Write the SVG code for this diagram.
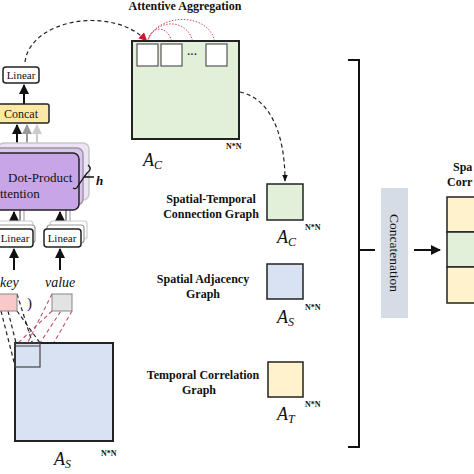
<svg xmlns="http://www.w3.org/2000/svg" width="474" height="474" viewBox="0 0 474 474">
<style>
.t{font-family:"Liberation Serif","Times New Roman",serif;fill:#111}
.b{font-weight:bold}
.lab{font-family:"Liberation Serif","Times New Roman",serif;font-weight:bold;font-size:12px;fill:#111;text-anchor:middle}
.nn{font-family:"Liberation Serif","Times New Roman",serif;font-weight:bold;font-size:8px;fill:#111}
.mat{font-family:"Liberation Serif","Times New Roman",serif;font-style:italic;font-size:18px;fill:#111}
.sub{font-size:12px}
.box{stroke:#222;stroke-width:2}
.cell{fill:#fff;stroke:#555;stroke-width:1.2}
.dk{stroke:#222;stroke-width:1.2;stroke-dasharray:4 3;fill:none}
.dr{stroke:#c0506a;stroke-width:1.1;stroke-dasharray:4 3;fill:none}
.arr{stroke:#111;stroke-width:2;fill:none}
</style>
<defs>
<marker id="ah" viewBox="0 0 10 10" refX="9" refY="5" markerWidth="5" markerHeight="5" orient="auto"><path d="M0,0 L10,5 L0,10 z" fill="#111"/></marker>
<marker id="ahs" viewBox="0 0 10 10" refX="9" refY="5" markerWidth="6" markerHeight="6" orient="auto"><path d="M0,1 L10,5 L0,9 z" fill="#111"/></marker>
<marker id="ahg" viewBox="0 0 10 10" refX="9" refY="5" markerWidth="5" markerHeight="5" orient="auto"><path d="M0,0 L10,5 L0,10 z" fill="#999"/></marker>
<marker id="ahl" viewBox="0 0 10 10" refX="9" refY="5" markerWidth="5" markerHeight="5" orient="auto"><path d="M0,0 L10,5 L0,10 z" fill="#ccc"/></marker>
<marker id="ahr" viewBox="0 0 10 10" refX="8" refY="5" markerWidth="7" markerHeight="7" orient="auto"><path d="M0,0 L10,5 L0,10 z" fill="#d0162a"/></marker>
</defs>

<g id="connectors">
  <path class="dk" d="M25,62 C30,20 110,5 146,40" stroke-width="1.5" marker-end="url(#ahr)"/>
  <path d="M172,44 C170,26 152,24 148,40" stroke="#d05060" stroke-width="1" stroke-dasharray="1.5 1.5" fill="none"/>
  <path d="M193,44 C190,18 156,18 148,40" stroke="#d05060" stroke-width="1" stroke-dasharray="1.5 1.5" fill="none"/>
  <path d="M215,44 C212,12 158,12 148,40" stroke="#d05060" stroke-width="1" stroke-dasharray="1.5 1.5" fill="none"/>
  <path class="dk" d="M240,92 C268,98 285,130 285,181" stroke-width="1.4" marker-end="url(#ahs)"/>
  <line class="arr" x1="24" y1="104" x2="24" y2="85" marker-end="url(#ah)"/>
  <line x1="37" y1="145" x2="37" y2="125" stroke="#ccc" stroke-width="2" marker-end="url(#ahl)"/>
  <line x1="27" y1="149" x2="27" y2="125" stroke="#999" stroke-width="2" marker-end="url(#ahg)"/>
  <line class="arr" x1="17" y1="153" x2="17" y2="125" marker-end="url(#ah)"/>
  <line x1="24" y1="225" x2="24" y2="206" stroke="#ccc" stroke-width="2"/>
  <line x1="20" y1="227" x2="20" y2="208" stroke="#999" stroke-width="2"/>
  <line class="arr" x1="14" y1="229" x2="14" y2="212" marker-end="url(#ah)"/>
  <line x1="70" y1="225" x2="70" y2="206" stroke="#ccc" stroke-width="2"/>
  <line x1="66" y1="227" x2="66" y2="208" stroke="#999" stroke-width="2"/>
  <line class="arr" x1="60" y1="229" x2="60" y2="212" marker-end="url(#ah)"/>
  <line class="arr" x1="14" y1="270" x2="14" y2="249" marker-end="url(#ah)"/>
  <line class="arr" x1="60" y1="270" x2="60" y2="249" marker-end="url(#ah)"/>
  <line class="dk" x1="1" y1="311" x2="15" y2="366"/>
  <line class="dk" x1="8" y1="311" x2="16" y2="343"/>
  <line class="dk" x1="17" y1="294" x2="40" y2="367"/>
  <line class="dk" x1="17" y1="311" x2="40" y2="343"/>
  <line class="dr" x1="52" y1="294" x2="16" y2="366"/>
  <line class="dr" x1="72" y1="294" x2="40" y2="343"/>
  <line class="dr" x1="52" y1="311" x2="18" y2="343"/>
  <line class="dr" x1="72" y1="311" x2="40" y2="367"/>
  <line class="arr" x1="414" y1="250" x2="440" y2="250" marker-end="url(#ah)"/>
</g>

<g id="linear-top">
  <rect x="3" y="67" width="36" height="16" rx="3" fill="#fff" stroke="#222" stroke-width="1.5"/>
  <text class="t" x="21" y="79" font-size="11" text-anchor="middle">Linear</text>
</g>

<g id="concat">
  <rect x="-6" y="104" width="55" height="19" rx="2" fill="#fde9a6" stroke="#222" stroke-width="1.5"/>
  <text class="t" x="21" y="118" font-size="12" text-anchor="middle">Concat</text>
</g>

<g id="attention">
  <rect x="-2" y="143" width="91" height="57" rx="6" fill="#ede2f6" stroke="#c8c8c8" stroke-width="1.5"/>
  <rect x="-6" y="148" width="89" height="57" rx="6" fill="#dbc5ef" stroke="#999" stroke-width="1.5"/>
  <rect x="-10" y="153" width="89" height="57" rx="6" fill="#c8a5e6" stroke="#222" stroke-width="1.5"/>
  <text class="t" x="8" y="182" font-size="13">Dot-Product</text>
  <text class="t" x="0" y="198" font-size="13">ttention</text>
  <path d="M88,165 Q93,169 87,173 L84,177 L94,177 M84,177 L78,186 Q76,190 73,188" stroke="#111" stroke-width="1.3" fill="none"/>
  <text class="t b" x="96" y="185" font-size="13" font-style="italic">h</text>
</g>

<g id="linear-key">
  <rect x="-4" y="221" width="37" height="18" rx="3" fill="#fff" stroke="#ccc" stroke-width="1.2"/>
  <rect x="-2" y="225" width="37" height="18" rx="3" fill="#fff" stroke="#999" stroke-width="1.2"/>
  <rect x="-4" y="229" width="37" height="18" rx="3" fill="#fff" stroke="#222" stroke-width="1.5"/>
  <text class="t" x="15" y="242" font-size="11" text-anchor="middle">Linear</text>
</g>

<g id="linear-value">
  <rect x="50" y="221" width="37" height="18" rx="3" fill="#fff" stroke="#ccc" stroke-width="1.2"/>
  <rect x="47" y="225" width="37" height="18" rx="3" fill="#fff" stroke="#999" stroke-width="1.2"/>
  <rect x="44" y="229" width="37" height="18" rx="3" fill="#fff" stroke="#222" stroke-width="1.5"/>
  <text class="t" x="62" y="242" font-size="11" text-anchor="middle">Linear</text>
</g>

<g id="key">
  <text class="t" x="0" y="287" font-size="14" font-style="italic">key</text>
  <rect x="-4" y="294" width="21" height="17" fill="#f9c8c8" stroke="#888" stroke-width="1"/>
  <text class="t" x="27" y="308" font-size="15">)</text>
</g>

<g id="value">
  <text class="t" x="45" y="287" font-size="14" font-style="italic">value</text>
  <rect x="52" y="294" width="20" height="17" fill="#e3e3e3" stroke="#888" stroke-width="1"/>
</g>

<g id="as-big">
  <rect class="box" x="15" y="343" width="98" height="98" fill="#d9e2f3"/>
  <rect x="15" y="343" width="25" height="24" fill="none" stroke="#444" stroke-width="1.2"/>
  <line x1="15" y1="346" x2="40" y2="346" stroke="#444" stroke-width="1"/>
  <text class="nn" x="101" y="456">N*N</text>
  <text class="mat" x="54" y="465">A<tspan class="sub" dy="3">S</tspan></text>
</g>

<g id="title">
  <text class="t b" x="185" y="10" font-size="12" text-anchor="middle">Attentive Aggregation</text>
</g>

<g id="ac-big">
  <rect class="box" x="132" y="41" width="107" height="98" fill="#e2efd9"/>
  <rect class="cell" x="137" y="44" width="21" height="22"/>
  <rect class="cell" x="161" y="44" width="21" height="22"/>
  <text class="t b" x="192" y="58" font-size="10" text-anchor="middle">···</text>
  <rect class="cell" x="206" y="44" width="21" height="22"/>
  <text class="nn" x="226" y="149">N*N</text>
  <text class="mat" x="143" y="166">A<tspan class="sub" dy="3">C</tspan></text>
</g>

<g id="ac-small">
  <text class="lab" x="211" y="203">Spatial-Temporal</text>
  <text class="lab" x="211" y="218">Connection Graph</text>
  <rect x="267" y="184" width="36" height="36" fill="#e2efd9" stroke="#222" stroke-width="1.5"/>
  <text class="nn" x="305" y="230">N*N</text>
  <text class="mat" x="277" y="243">A<tspan class="sub" dy="3">C</tspan></text>
</g>

<g id="as-small">
  <text class="lab" x="203" y="283">Spatial Adjacency</text>
  <text class="lab" x="203" y="298">Graph</text>
  <rect x="267" y="264" width="36" height="35" fill="#d9e2f3" stroke="#222" stroke-width="1.5"/>
  <text class="nn" x="305" y="310">N*N</text>
  <text class="mat" x="277" y="323">A<tspan class="sub" dy="3">S</tspan></text>
</g>

<g id="at-small">
  <text class="lab" x="203" y="379">Temporal Correlation</text>
  <text class="lab" x="199" y="394">Graph</text>
  <rect x="268" y="362" width="35" height="35" fill="#fff2cc" stroke="#222" stroke-width="1.5"/>
  <text class="nn" x="305" y="407">N*N</text>
  <text class="mat" x="277" y="420">A<tspan class="sub" dy="3">T</tspan></text>
</g>

<g id="bracket">
  <path d="M348,60 L359,60 L359,447 L348,447 M359,250 L375,250" stroke="#111" stroke-width="2" fill="none"/>
</g>

<g id="concatenation">
  <rect x="381" y="188" width="27" height="130" fill="#d6dce5"/>
  <text class="t" x="0" y="0" font-size="13.5" text-anchor="middle" transform="translate(390,253) rotate(90)">Concatenation</text>
</g>

<g id="result">
  <text class="t b" x="453" y="171" font-size="12">Spa</text>
  <text class="t b" x="447" y="186" font-size="12">Corr</text>
  <rect x="447" y="197" width="40" height="35" fill="#fff2cc" stroke="#222" stroke-width="1.5"/>
  <rect x="447" y="232" width="40" height="35" fill="#e2efd9" stroke="#222" stroke-width="1.5"/>
  <rect x="447" y="267" width="40" height="36" fill="#fff2cc" stroke="#222" stroke-width="1.5"/>
</g>
</svg>
